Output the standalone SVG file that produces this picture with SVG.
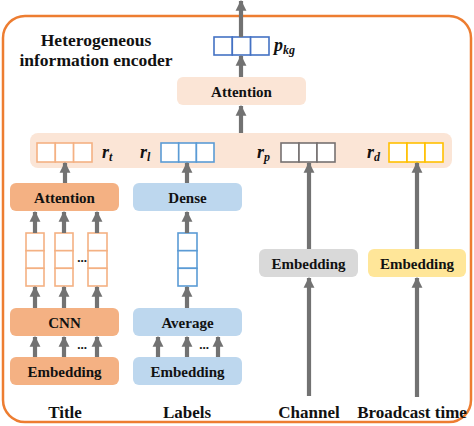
<svg xmlns="http://www.w3.org/2000/svg" width="474" height="426" viewBox="0 0 474 426">
<defs>
<marker id="ah" viewBox="0 0 10 10" refX="9" refY="5" markerWidth="2.6" markerHeight="3" markerUnits="strokeWidth" orient="auto">
<path d="M0,0 L10,5 L0,10 Z" fill="#727272"/>
</marker>
</defs>
<style>
.t{font-family:"Liberation Serif","Times New Roman",serif;font-weight:bold;fill:#111;text-anchor:middle}
.m{font-family:"Liberation Serif","Times New Roman",serif;font-weight:bold;font-style:italic;fill:#111}
.c line{stroke:#727272;stroke-width:4.2;marker-end:url(#ah)}
.cell{fill:#fff;stroke-width:1.6}
</style>
<rect x="3" y="16" width="468" height="406" rx="22" fill="#fff" stroke="#ed7d31" stroke-width="2.5"/>
<g id="title"><text class="t" x="96" y="46" font-size="17.5">Heterogeneous</text><text class="t" x="96" y="66" font-size="17.5">information encoder</text></g>

<g id="band"><rect x="30" y="133" width="422" height="35" rx="8" fill="#fbe5d6"/></g>

<g id="pkg">
<rect class="cell" x="214" y="37" width="18.3" height="18" stroke="#4472c4"/><rect class="cell" x="232.3" y="37" width="18.3" height="18" stroke="#4472c4"/><rect class="cell" x="250.6" y="37" width="18.4" height="18" stroke="#4472c4"/>
<text class="m" x="274" y="51" font-size="18">p<tspan font-size="12" dy="3">kg</tspan></text>
</g>
<g id="attn-top"><rect x="177" y="77" width="129" height="28" rx="6" fill="#fbe5d6"/><text class="t" x="241.5" y="96.5" font-size="15">Attention</text></g>

<g id="rt">
<rect class="cell" x="37" y="143" width="18.3" height="19" stroke="#f4b183"/><rect class="cell" x="55.3" y="143" width="18.3" height="19" stroke="#f4b183"/><rect class="cell" x="73.6" y="143" width="18.4" height="19" stroke="#f4b183"/>
<text class="m" x="102" y="158" font-size="18">r<tspan font-size="12" dy="3">t</tspan></text>
</g>
<g id="rl">
<rect class="cell" x="161" y="143" width="17.7" height="19" stroke="#5b9bd5"/><rect class="cell" x="178.7" y="143" width="17.7" height="19" stroke="#5b9bd5"/><rect class="cell" x="196.4" y="143" width="17.6" height="19" stroke="#5b9bd5"/>
<text class="m" x="140" y="158" font-size="18">r<tspan font-size="12" dy="3">l</tspan></text>
</g>
<g id="rp">
<rect class="cell" x="281" y="143" width="18" height="19" stroke="#767171"/><rect class="cell" x="299" y="143" width="18" height="19" stroke="#767171"/><rect class="cell" x="317" y="143" width="18" height="19" stroke="#767171"/>
<text class="m" x="257" y="158" font-size="18">r<tspan font-size="12" dy="3">p</tspan></text>
</g>
<g id="rd">
<rect class="cell" x="389" y="143" width="18" height="19" stroke="#ffc000"/><rect class="cell" x="407" y="143" width="18" height="19" stroke="#ffc000"/><rect class="cell" x="425" y="143" width="18" height="19" stroke="#ffc000"/>
<text class="m" x="367" y="158" font-size="18">r<tspan font-size="12" dy="3">d</tspan></text>
</g>

<g id="attn-left"><rect x="10" y="183" width="109" height="28" rx="6" fill="#f4b183"/><text class="t" x="64.5" y="202.5" font-size="15">Attention</text></g>
<g id="dense"><rect x="133" y="183" width="109" height="28" rx="6" fill="#bdd7ee"/><text class="t" x="187.5" y="202.5" font-size="15">Dense</text></g>

<g id="title-vecs">
<rect class="cell" x="26" y="233" width="18" height="17.7" stroke="#f4b183"/><rect class="cell" x="26" y="250.7" width="18" height="17.6" stroke="#f4b183"/><rect class="cell" x="26" y="268.3" width="18" height="17.7" stroke="#f4b183"/>
<rect class="cell" x="55" y="233" width="18" height="17.7" stroke="#f4b183"/><rect class="cell" x="55" y="250.7" width="18" height="17.6" stroke="#f4b183"/><rect class="cell" x="55" y="268.3" width="18" height="17.7" stroke="#f4b183"/>
<rect class="cell" x="88" y="233" width="19" height="17.7" stroke="#f4b183"/><rect class="cell" x="88" y="250.7" width="19" height="17.6" stroke="#f4b183"/><rect class="cell" x="88" y="268.3" width="19" height="17.7" stroke="#f4b183"/>
<text class="t" x="82" y="262" font-size="13">...</text>
</g>
<g id="label-vec">
<rect class="cell" x="178" y="233" width="19" height="17.7" stroke="#5b9bd5"/><rect class="cell" x="178" y="250.7" width="19" height="17.6" stroke="#5b9bd5"/><rect class="cell" x="178" y="268.3" width="19" height="17.7" stroke="#5b9bd5"/>
</g>

<g id="cnn"><rect x="10" y="308" width="109" height="28" rx="6" fill="#f4b183"/><text class="t" x="64.5" y="327.5" font-size="15">CNN</text></g>
<g id="average"><rect x="133" y="308" width="109" height="28" rx="6" fill="#bdd7ee"/><text class="t" x="187.5" y="327.5" font-size="15">Average</text></g>
<g id="emb-title"><rect x="10" y="357" width="109" height="28" rx="6" fill="#f4b183"/><text class="t" x="64.5" y="376.5" font-size="15">Embedding</text></g>
<g id="emb-labels"><rect x="133" y="357" width="109" height="28" rx="6" fill="#bdd7ee"/><text class="t" x="187.5" y="376.5" font-size="15">Embedding</text></g>
<g id="emb-channel"><rect x="259" y="249" width="99" height="28" rx="6" fill="#d9d9d9"/><text class="t" x="308.5" y="268.5" font-size="15">Embedding</text></g>
<g id="emb-time"><rect x="368" y="249" width="98" height="28" rx="6" fill="#ffe699"/><text class="t" x="417" y="268.5" font-size="15">Embedding</text></g>
<g id="dots"><text class="t" x="82" y="349" font-size="13">...</text><text class="t" x="204" y="349" font-size="13">...</text></g>

<g id="inputs">
<text class="t" x="65" y="418" font-size="17">Title</text>
<text class="t" x="187" y="418" font-size="17">Labels</text>
<text class="t" x="309" y="418" font-size="17">Channel</text>
<text class="t" x="412" y="418" font-size="17">Broadcast time</text>
</g>

<g id="connectors" class="c">
<line x1="241" y1="37" x2="241" y2="1"/>
<line x1="241" y1="77" x2="241" y2="56"/>
<line x1="241" y1="133" x2="241" y2="106"/>
<line x1="65" y1="183" x2="65" y2="163"/>
<line x1="187" y1="183" x2="187" y2="163"/>
<line x1="35" y1="233" x2="35" y2="212"/>
<line x1="64" y1="233" x2="64" y2="212"/>
<line x1="97" y1="233" x2="97" y2="212"/>
<line x1="187" y1="233" x2="187" y2="212"/>
<line x1="35" y1="308" x2="35" y2="287"/>
<line x1="64" y1="308" x2="64" y2="287"/>
<line x1="97" y1="308" x2="97" y2="287"/>
<line x1="187" y1="308" x2="187" y2="287"/>
<line x1="35" y1="357" x2="35" y2="337"/>
<line x1="64" y1="357" x2="64" y2="337"/>
<line x1="97" y1="357" x2="97" y2="337"/>
<line x1="158" y1="357" x2="158" y2="337"/>
<line x1="187" y1="357" x2="187" y2="337"/>
<line x1="218" y1="357" x2="218" y2="337"/>
<line x1="309" y1="249" x2="309" y2="163"/>
<line x1="417" y1="249" x2="417" y2="163"/>
<line x1="309" y1="396" x2="309" y2="278"/>
<line x1="417" y1="397" x2="417" y2="278"/>
</g>
</svg>
